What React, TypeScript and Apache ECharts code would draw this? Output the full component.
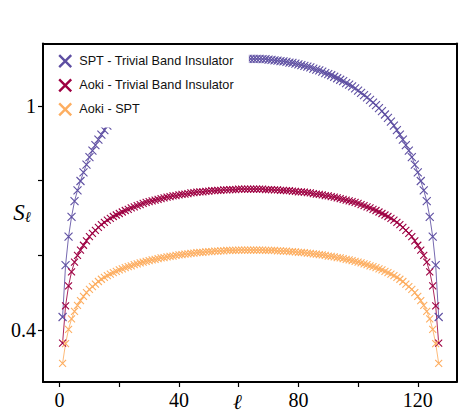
import React, { useEffect, useRef } from "react";
import * as echarts from "echarts";

const ell = [
  1, 2, 3, 4, 5, 6, 7, 8, 9, 10, 11, 12, 13, 14, 15, 16, 17, 18, 19, 20,
  21, 22, 23, 24, 25, 26, 27, 28, 29, 30, 31, 32, 33, 34, 35, 36, 37, 38, 39, 40,
  41, 42, 43, 44, 45, 46, 47, 48, 49, 50, 51, 52, 53, 54, 55, 56, 57, 58, 59, 60,
  61, 62, 63, 64, 65, 66, 67, 68, 69, 70, 71, 72, 73, 74, 75, 76, 77, 78, 79, 80,
  81, 82, 83, 84, 85, 86, 87, 88, 89, 90, 91, 92, 93, 94, 95, 96, 97, 98, 99, 100,
  101, 102, 103, 104, 105, 106, 107, 108, 109, 110, 111, 112, 113, 114, 115, 116, 117, 118, 119, 120,
  121, 122, 123, 124, 125, 126, 127,
];

const sptTrivial = [
  0.435, 0.574, 0.65, 0.703, 0.745, 0.774, 0.799, 0.822, 0.843, 0.863,
  0.88, 0.895, 0.91, 0.923, 0.935, 0.947, 0.958, 0.968, 0.977, 0.986,
  0.994, 1.002, 1.009, 1.016, 1.023, 1.029, 1.035, 1.041, 1.047, 1.052,
  1.057, 1.061, 1.066, 1.07, 1.074, 1.078, 1.082, 1.085, 1.088, 1.092,
  1.095, 1.097, 1.1, 1.103, 1.105, 1.107, 1.109, 1.111, 1.113, 1.115,
  1.116, 1.118, 1.119, 1.12, 1.121, 1.122, 1.123, 1.124, 1.125, 1.125,
  1.126, 1.126, 1.126, 1.126,
  1.126, 1.126, 1.126, 1.125, 1.125, 1.124, 1.123, 1.122, 1.121, 1.12,
  1.119, 1.118, 1.116, 1.115, 1.113, 1.111, 1.109, 1.107, 1.105, 1.103,
  1.1, 1.097, 1.095, 1.092, 1.088, 1.085, 1.082, 1.078, 1.074, 1.07,
  1.066, 1.061, 1.057, 1.052, 1.047, 1.041, 1.035, 1.029, 1.023, 1.016,
  1.009, 1.002, 0.994, 0.986, 0.977, 0.968, 0.958, 0.947, 0.935, 0.923,
  0.91, 0.895, 0.88, 0.863, 0.843, 0.822, 0.799, 0.774, 0.745, 0.703,
  0.65, 0.574, 0.435,
];

const aokiTrivial = [
  0.365, 0.465, 0.518, 0.556, 0.582, 0.6, 0.614, 0.627, 0.639, 0.65,
  0.659, 0.667, 0.675, 0.682, 0.688, 0.694, 0.699, 0.704, 0.708, 0.712,
  0.716, 0.72, 0.723, 0.727, 0.73, 0.733, 0.736, 0.739, 0.742, 0.744,
  0.746, 0.748, 0.75, 0.752, 0.754, 0.756, 0.757, 0.759, 0.76, 0.762,
  0.763, 0.764, 0.765, 0.767, 0.768, 0.769, 0.77, 0.77, 0.771, 0.772,
  0.773, 0.773, 0.774, 0.774, 0.775, 0.775, 0.776, 0.776, 0.776, 0.777,
  0.777, 0.777, 0.777, 0.777,
  0.777, 0.777, 0.777, 0.777, 0.776, 0.776, 0.776, 0.775, 0.775, 0.774,
  0.774, 0.773, 0.773, 0.772, 0.771, 0.77, 0.77, 0.769, 0.768, 0.767,
  0.765, 0.764, 0.763, 0.762, 0.76, 0.759, 0.757, 0.756, 0.754, 0.752,
  0.75, 0.748, 0.746, 0.744, 0.742, 0.739, 0.736, 0.733, 0.73, 0.727,
  0.723, 0.72, 0.716, 0.712, 0.708, 0.704, 0.699, 0.694, 0.688, 0.682,
  0.675, 0.667, 0.659, 0.65, 0.639, 0.627, 0.614, 0.6, 0.582, 0.556,
  0.518, 0.465, 0.365,
];

const aokiSpt = [
  0.311, 0.364, 0.402, 0.43, 0.45, 0.466, 0.479, 0.49, 0.5, 0.509,
  0.516, 0.523, 0.53, 0.536, 0.541, 0.546, 0.55, 0.554, 0.557, 0.561,
  0.564, 0.567, 0.57, 0.572, 0.575, 0.577, 0.58, 0.582, 0.584, 0.586,
  0.588, 0.589, 0.591, 0.593, 0.594, 0.596, 0.597, 0.598, 0.6, 0.601,
  0.602, 0.603, 0.604, 0.605, 0.606, 0.607, 0.608, 0.608, 0.609, 0.61,
  0.61, 0.611, 0.611, 0.612, 0.612, 0.613, 0.613, 0.613, 0.613, 0.614,
  0.614, 0.614, 0.614, 0.614,
  0.614, 0.614, 0.614, 0.614, 0.613, 0.613, 0.613, 0.613, 0.612, 0.612,
  0.611, 0.611, 0.61, 0.61, 0.609, 0.608, 0.608, 0.607, 0.606, 0.605,
  0.604, 0.603, 0.602, 0.601, 0.6, 0.598, 0.597, 0.596, 0.594, 0.593,
  0.591, 0.589, 0.588, 0.586, 0.584, 0.582, 0.58, 0.577, 0.575, 0.572,
  0.57, 0.567, 0.564, 0.561, 0.557, 0.554, 0.55, 0.546, 0.541, 0.536,
  0.53, 0.523, 0.516, 0.509, 0.5, 0.49, 0.479, 0.466, 0.45, 0.43,
  0.402, 0.364, 0.311,
];

const seriesNames = [
  "SPT - Trivial Band Insulator",
  "Aoki - Trivial Band Insulator",
  "Aoki - SPT",
];
const seriesColors = ["#5e4fa2", "#9e0142", "#fdae61"];
const xTicks = [0, 20, 40, 60, 80, 100, 120];
const xTickLabels = [0, 40, 80, 120];
const yTicks = [0.4, 0.6, 0.8, 1];
const yTickLabels = [0.4, 1];

const X_MARK = "path://M0,0L10,10M10,0L0,10";
const X_MIN = -5.56;
const X_MAX = 132.97;
const Y_MIN = 0.261;
const Y_MAX = 1.167;

export default function App() {
  const ref = useRef<HTMLDivElement>(null);

  useEffect(() => {
    if (!ref.current) return;
    const chart = echarts.init(ref.current, null, { renderer: "svg" });
    const allValues = [sptTrivial, aokiTrivial, aokiSpt];
    const serif = "Liberation Serif, DejaVu Serif, serif";
    const frameLine = {
      show: true,
      onZero: false,
      lineStyle: { color: "#000", width: 2 },
    };

    chart.setOption({
      animation: false,
      grid: {
        left: 43,
        right: 17.5,
        top: 43.5,
        bottom: 36,
        containLabel: false,
        outerBoundsMode: "none",
      },
      legend: {
        orient: "vertical",
        left: 45,
        top: 45,
        padding: [9, 15, 11, 13],
        itemGap: 9.7,
        itemWidth: 12,
        itemHeight: 12,
        icon: X_MARK,
        backgroundColor: "#fff",
        itemStyle: { borderWidth: 2.4 },
        textStyle: {
          fontFamily: "Liberation Sans, Arial, sans-serif",
          fontSize: 12.7,
          color: "#111",
          padding: [0, 0, 0, 3],
        },
        data: seriesNames,
      },
      xAxis: [
        {
          type: "value",
          min: X_MIN,
          max: X_MAX,
          position: "bottom",
          name: "ℓ",
          nameLocation: "middle",
          nameGap: 9,
          nameMoveOverlap: false,
          nameTextStyle: {
            fontFamily: serif,
            fontSize: 21,
            fontStyle: "italic",
            color: "#000",
            padding: [0, 25, 0, 0],
            verticalAlign: "top",
          },
          axisLine: frameLine,
          splitLine: { show: false },
          axisTick: {
            show: true,
            customValues: xTicks,
            length: 5,
            inside: false,
            lineStyle: { color: "#000", width: 1.2 },
          },
          axisLabel: {
            customValues: xTickLabels,
            margin: 8,
            fontFamily: serif,
            fontSize: 20,
            color: "#000",
          },
        },
        {
          type: "value",
          min: X_MIN,
          max: X_MAX,
          position: "top",
          axisLine: frameLine,
          axisTick: { show: false },
          axisLabel: { show: false },
          splitLine: { show: false },
        },
      ],
      yAxis: [
        {
          type: "value",
          min: Y_MIN,
          max: Y_MAX,
          position: "left",
          name: "{s|S}{l|ℓ}",
          nameLocation: "middle",
          nameRotate: 0,
          nameGap: 12,
          nameMoveOverlap: false,
          nameTextStyle: {
            rich: {
              s: {
                fontFamily: serif,
                fontSize: 23,
                fontStyle: "italic",
                color: "#000",
              },
              l: {
                fontFamily: serif,
                fontSize: 15,
                fontStyle: "italic",
                color: "#000",
                padding: [9, 0, 0, 0],
              },
            },
          },
          axisLine: frameLine,
          splitLine: { show: false },
          axisTick: {
            show: true,
            customValues: yTicks,
            length: 5,
            inside: false,
            lineStyle: { color: "#000", width: 1.2 },
          },
          axisLabel: {
            customValues: yTickLabels,
            margin: 7,
            fontFamily: serif,
            fontSize: 20,
            color: "#000",
            formatter: (v: number) => String(v),
          },
        },
        {
          type: "value",
          min: Y_MIN,
          max: Y_MAX,
          position: "right",
          axisLine: frameLine,
          axisTick: { show: false },
          axisLabel: { show: false },
          splitLine: { show: false },
        },
      ],
      series: seriesNames.map((name, i) => ({
        name,
        type: "line",
        data: ell.map((x, j) => [x, allValues[i][j]]),
        symbol: X_MARK,
        symbolSize: i === 0 ? 8 : 7,
        showSymbol: true,
        lineStyle: { color: seriesColors[i], width: 1, opacity: 0.85 },
        itemStyle: {
          color: seriesColors[i],
          borderColor: seriesColors[i],
          borderWidth: 1.1,
        },
        emphasis: { disabled: true },
        z: 2,
      })),
    });

    return () => chart.dispose();
  }, []);

  return (
    <div
      ref={ref}
      style={{ position: "absolute", left: 0, top: 0, width: 474, height: 418 }}
    />
  );
}
